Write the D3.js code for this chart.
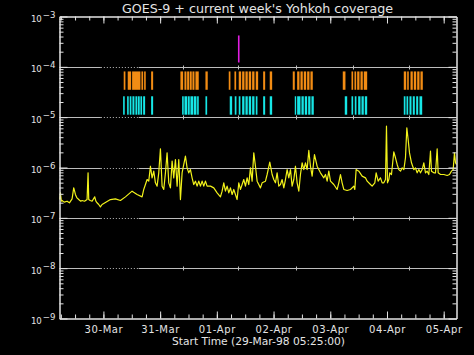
<!DOCTYPE html>
<html><head><meta charset="utf-8">
<script src="https://cdn.jsdelivr.net/npm/d3@7"></script>
<style>html,body{margin:0;padding:0;background:#000;} svg{display:block;}</style>
</head><body><svg id="c" width="474" height="355"></svg>
<script>
// ---------- data ----------
const titleText = "GOES-9 + current week's Yohkoh coverage";
const xTitleText = "Start Time (29-Mar-98 05:25:00)";
const startTime = Date.UTC(1998, 2, 29, 5, 25);
const spanHours = 168;
const dayTickLabels = ["30-Mar", "31-Mar", "01-Apr", "02-Apr", "03-Apr", "04-Apr", "05-Apr"];
const decadeTicks = [1e-9, 1e-8, 1e-7, 1e-6, 1e-5, 1e-4, 1e-3];
const decadeExponents = ["\u22129", "\u22128", "\u22127", "\u22126", "\u22125", "\u22124", "\u22123"];
const gridLevels = [1e-4, 1e-5, 1e-6, 1e-7, 1e-8];
const gridDottedHours = [17.5, 33.5];
const gridMarkHours = [52.3, 75.6, 99.9, 124.3, 147.8];

// hours since start
const fluxHours = [
  0.1, 0.38, 0.8, 1.09, 2.0, 3.2, 4.2, 5.32, 6.02, 6.4, 6.73, 7.4, 8.14, 9.0, 9.55, 10.6, 11.67, 12.09, 12.37, 13.0,
  13.79, 14.4, 14.91, 15.4, 15.9, 16.6, 17.31, 18.02, 21.55, 23.66, 25.78, 27.89, 30.72, 32.83, 34.95, 35.65, 36.36, 37.07, 37.77, 38.48,
  39.18, 39.89, 40.59, 41.3, 42.0, 42.71, 43.42, 44.12, 44.83, 45.53, 46.24, 46.94, 47.65, 48.35, 49.06, 49.77, 50.47, 51.18, 51.88, 53.29,
  54.0, 54.7, 55.41, 56.11, 56.82, 57.53, 58.23, 58.94, 59.64, 60.35, 61.05, 61.76, 62.46, 63.88, 65.29, 66.7, 68.11, 68.81, 69.52, 70.22,
  70.93, 71.64, 72.34, 73.05, 73.75, 75.16, 75.87, 76.57, 77.98, 78.69, 79.4, 80.1, 80.81, 81.51, 82.22, 82.92, 83.63, 85.04, 85.75, 87.16,
  87.86, 88.99, 89.98, 90.68, 91.39, 92.09, 92.8, 93.5, 94.21, 94.92, 95.62, 96.33, 97.03, 97.74, 98.44, 99.15, 99.85, 100.56, 101.27, 101.97,
  102.68, 103.38, 104.09, 104.79, 105.5, 106.2, 106.91, 107.9, 109.02, 110.44, 111.85, 112.55, 113.26, 113.96, 114.67, 116.08, 117.49, 118.19, 118.9, 119.6,
  120.31, 121.72, 123.13, 124.54, 124.97, 125.53, 126.66, 128.07, 129.48, 130.19, 131.6, 132.3, 133.43, 134.0, 134.84, 135.83, 136.54, 137.24, 137.95, 138.37,
  138.79, 139.36, 139.78, 140.49, 141.47, 142.18, 142.89, 143.59, 144.3, 145.0, 145.71, 146.41, 146.98, 147.54, 148.11, 148.95, 149.94, 150.65, 151.35, 152.06,
  152.76, 153.47, 154.17, 154.88, 155.58, 156.29, 156.99, 157.42, 158.41, 159.11, 159.82, 160.24, 161.23, 162.64, 164.05, 165.04, 165.88, 166.59, 167.15, 167.58,
  168.0
];
// GOES X-ray flux, W/m^2
const fluxValues = [
  2.31e-7, 3.14e-7, 2.14e-7, 2.21e-7, 2.05e-7, 2.14e-7, 1.99e-7, 2.38e-7, 3.94e-7, 3.39e-7, 2.91e-7, 2.49e-7, 2.31e-7, 2.14e-7, 2.21e-7, 2.14e-7, 2.31e-7, 7.83e-7, 2.31e-7, 2.21e-7,
  2.14e-7, 2.38e-7, 2.61e-7, 2.14e-7, 1.99e-7, 1.84e-7, 1.65e-7, 1.84e-7, 2.31e-7, 2.38e-7, 2.21e-7, 2.61e-7, 3.39e-7, 2.91e-7, 2.61e-7, 3.66e-7, 4.59e-7, 5.77e-7, 5.35e-7, 1.06e-6,
  6.23e-7, 8.45e-7, 4.96e-7, 4.26e-7, 7.83e-7, 2.35e-6, 4.26e-7, 3.66e-7, 7.83e-7, 1.95e-6, 4.96e-7, 3.94e-7, 1.34e-6, 6.23e-7, 1.44e-6, 4.26e-7, 1.44e-6, 2.31e-7, 7.83e-7, 1.68e-6,
  9.85e-7, 7.83e-7, 9.1e-7, 6.23e-7, 4.59e-7, 5.35e-7, 4.26e-7, 5.35e-7, 4.26e-7, 5.35e-7, 4.26e-7, 5.35e-7, 4.26e-7, 4.26e-7, 3.94e-7, 3.14e-7, 2.61e-7, 3.39e-7, 4.96e-7, 3.39e-7,
  4.26e-7, 3.14e-7, 3.94e-7, 2.91e-7, 3.66e-7, 2.31e-7, 4.96e-7, 3.66e-7, 5.77e-7, 4.26e-7, 6.23e-7, 4.59e-7, 9.85e-7, 5.35e-7, 1.95e-6, 1.06e-6, 5.35e-7, 3.94e-7, 4.96e-7, 5.35e-7,
  7.26e-7, 1.28e-6, 7.26e-7, 5.77e-7, 4.96e-7, 7.83e-7, 4.26e-7, 4.59e-7, 5.77e-7, 3.94e-7, 5.77e-7, 9.1e-7, 6.23e-7, 9.1e-7, 4.26e-7, 5.77e-7, 1.06e-6, 4.96e-7, 3.39e-7, 7.26e-7,
  1.24e-6, 9.1e-7, 1.24e-6, 9.1e-7, 2.18e-6, 1.06e-6, 6.73e-7, 1.81e-6, 1.06e-6, 7.83e-7, 6.23e-7, 7.26e-7, 5.35e-7, 8.45e-7, 5.35e-7, 4.59e-7, 3.66e-7, 4.96e-7, 7.26e-7, 4.96e-7,
  3.66e-7, 3.49e-7, 3.66e-7, 4.26e-7, 3.66e-7, 9.1e-7, 8.45e-7, 6.73e-7, 6.23e-7, 5.35e-7, 4.59e-7, 4.26e-7, 4.96e-7, 7.83e-7, 5.35e-7, 6.23e-7, 4.96e-7, 4.96e-7, 5.77e-7, 6.62e-6,
  4.96e-7, 5.77e-7, 7.83e-7, 7.26e-7, 2.05e-6, 1.56e-6, 1.15e-6, 9.1e-7, 8.45e-7, 9.85e-7, 9.1e-7, 1.56e-6, 6.14e-6, 3.6e-6, 1.95e-6, 1.24e-6, 9.1e-7, 9.85e-7, 7.83e-7, 9.1e-7,
  7.83e-7, 9.1e-7, 1.24e-6, 7.83e-7, 8.45e-7, 7.26e-7, 2.11e-6, 8.45e-7, 7.83e-7, 7.83e-7, 2.35e-6, 7.83e-7, 7.26e-7, 7.26e-7, 6.93e-7, 7.26e-7, 8.45e-7, 9.1e-7, 1.95e-6, 1.24e-6,
  1.15e-6
];

// Yohkoh coverage intervals [start hour, end hour]
const orangeCoverage = [
  [27.17, 27.89], [28.87, 30.31], [30.73, 34.24], [34.67, 35.39], [35.81, 36.49], [38.77, 39.62],
  [51.17, 52.32], [52.87, 53.71], [54.01, 54.86], [55.11, 55.96], [56.25, 57.1], [57.52, 58.92], [61.76, 62.73],
  [71.62, 72.34], [74.03, 74.75], [75.85, 76.87], [77.29, 78.27], [78.69, 79.66], [80.08, 81.1], [81.52, 82.5], [83.05, 84.06], [86.18, 87.03], [88.97, 89.99],
  [98.71, 99.56], [100.57, 101.55], [101.97, 102.94], [103.37, 104.38], [104.8, 105.78], [106.2, 107.18],
  [119.87, 121.01], [123.56, 124.27], [124.82, 125.54], [125.97, 126.94], [127.37, 128.34], [128.76, 130.2],
  [145.69, 146.71], [147.13, 147.81], [148.53, 149.5], [149.93, 150.94], [151.37, 152.34], [152.76, 153.74]
];
const cyanCoverage = [
  [26.92, 27.6], [28.61, 29.29], [29.71, 30.43], [30.86, 31.7], [32.13, 32.85], [33.1, 33.95], [34.24, 34.96], [35.39, 36.23], [38.77, 39.62],
  [51.89, 52.57], [52.87, 54.01], [54.27, 55.11], [55.41, 56.55], [56.8, 57.95], [58.24, 58.92], [61.76, 62.48],
  [72.04, 73.06], [74.16, 74.88], [75.85, 76.57], [77.29, 78.27], [78.69, 79.66], [80.08, 81.1], [81.52, 82.5], [83.05, 83.77], [86.18, 87.03], [88.97, 89.99],
  [99.56, 100.15], [100.57, 101.97], [102.39, 103.37], [103.79, 104.8], [105.23, 106.2], [106.62, 107.6],
  [120.72, 121.74], [123.56, 124.27], [124.95, 125.67], [126.39, 127.37], [127.79, 128.76], [129.19, 130.2],
  [145.69, 146.41], [146.84, 147.56], [148.1, 148.95], [149.5, 150.35], [150.94, 151.79], [152.34, 153.48]
];
const orangeBand = [8.1e-5, 3.5e-5];
const cyanBand = [2.6e-5, 1.12e-5];
const magentaHours = [75.85];
const magentaRange = [4.2e-4, 1.22e-4];

// ---------- drawing ----------
const svg = d3.select("#c");
svg.append("rect").attr("width", 474).attr("height", 355).attr("fill", "#000");
const hourToDate = h => new Date(startTime + h * 3600e3);
const L = 59.5, R = 456.5, T = 16.5, B = 318.5;
const x = d3.scaleUtc().domain([hourToDate(0), hourToDate(spanHours)]).range([L, R]);
const y = d3.scaleLog().domain([1e-9, 1e-3]).range([B, T]);
const axisColor = "#e4e4e4", gridColor = "#bdbdbd", font = "DejaVu Sans, sans-serif";

// title
svg.append("text").attr("x", 257.5).attr("y", 12.5).attr("text-anchor", "middle")
  .attr("font-family", font).attr("font-size", 12).attr("fill", axisColor)
  .attr("textLength", 271).attr("lengthAdjust", "spacingAndGlyphs").text(titleText);

// grid lines
const gx0 = x(hourToDate(0)), gxa = x(hourToDate(gridDottedHours[0])), gxb = x(hourToDate(gridDottedHours[1])), gx1 = x(hourToDate(spanHours));
const grid = svg.append("g").attr("stroke", gridColor).attr("stroke-width", 1);
gridLevels.forEach(v => {
  const yy = Math.round(y(v)) + 0.5;
  grid.append("line").attr("x1", gx0).attr("x2", gxa).attr("y1", yy).attr("y2", yy);
  grid.append("line").attr("x1", gxa).attr("x2", gxb).attr("y1", yy).attr("y2", yy).attr("stroke-dasharray", "1,2");
  grid.append("line").attr("x1", gxb).attr("x2", gx1).attr("y1", yy).attr("y2", yy);
  if (v !== 1e-6) gridMarkHours.forEach(h => {
    const xx = Math.round(x(hourToDate(h))) + 0.5;
    grid.append("line").attr("x1", xx).attr("x2", xx).attr("y1", yy - 2).attr("y2", yy + 2);
  });
});

// coverage bars
function bars(data, band, color) {
  svg.append("g").selectAll("rect").data(data).join("rect")
    .attr("x", d => x(hourToDate(d[0])))
    .attr("width", d => Math.max(1, x(hourToDate(d[1])) - x(hourToDate(d[0]))))
    .attr("y", y(band[0])).attr("height", y(band[1]) - y(band[0]))
    .attr("fill", color);
}
bars(orangeCoverage, orangeBand, "#f28c14");
bars(cyanCoverage, cyanBand, "#16e6e6");

// magenta marker
svg.append("g").selectAll("line").data(magentaHours).join("line")
  .attr("x1", d => x(hourToDate(d))).attr("x2", d => x(hourToDate(d)))
  .attr("y1", y(magentaRange[0])).attr("y2", y(magentaRange[1]))
  .attr("stroke", "#e21ee2").attr("stroke-width", 1.6);

// flux line
const series = fluxHours.map((h, i) => [h, fluxValues[i]]);
svg.append("path").datum(series)
  .attr("d", d3.line().x(d => x(hourToDate(d[0]))).y(d => y(d[1])))
  .attr("fill", "none").attr("stroke", "#f2f21a").attr("stroke-width", 1.2).attr("stroke-linejoin", "round");

// axes
const dayTicks = d3.utcDay.range(hourToDate(0), hourToDate(spanHours));
const sixHourTicks = d3.utcHour.every(6).range(hourToDate(0), hourToDate(spanHours));
function styleAxis(g) {
  g.select(".domain").attr("stroke", axisColor);
  g.selectAll(".tick line").attr("stroke", axisColor);
  g.selectAll("text").attr("fill", axisColor).attr("font-family", font);
}
const axBottom = svg.append("g").attr("transform", `translate(0,${B})`)
  .call(d3.axisBottom(x).tickValues(sixHourTicks).tickSize(-4).tickSizeOuter(0).tickFormat(""));
styleAxis(axBottom);
const axBottomMajor = svg.append("g").attr("transform", `translate(0,${B})`)
  .call(d3.axisBottom(x).tickValues(dayTicks).tickSize(-7).tickSizeOuter(0).tickPadding(7.5)
    .tickFormat((d, i) => dayTickLabels[i]));
styleAxis(axBottomMajor);
axBottomMajor.selectAll("text").attr("font-size", 10).attr("letter-spacing", 0.6);

const axTop = svg.append("g").attr("transform", `translate(0,${T})`)
  .call(d3.axisTop(x).tickValues(sixHourTicks).tickSize(-4).tickSizeOuter(0).tickFormat(""));
styleAxis(axTop);
const axTopMajor = svg.append("g").attr("transform", `translate(0,${T})`)
  .call(d3.axisTop(x).tickValues(dayTicks).tickSize(-7).tickSizeOuter(0).tickFormat(""));
styleAxis(axTopMajor);

const minorY = y.ticks().filter(v => !decadeTicks.some(d => Math.abs(v / d - 1) < 1e-6));
const axLeft = svg.append("g").attr("transform", `translate(${L},0)`)
  .call(d3.axisLeft(y).tickValues(minorY).tickSize(-4).tickSizeOuter(0).tickFormat(""));
styleAxis(axLeft);
const axLeftMajor = svg.append("g").attr("transform", `translate(${L},0)`)
  .call(d3.axisLeft(y).tickValues(decadeTicks).tickSize(-8).tickSizeOuter(0).tickFormat(""));
styleAxis(axLeftMajor);
const axRight = svg.append("g").attr("transform", `translate(${R},0)`)
  .call(d3.axisRight(y).tickValues(minorY).tickSize(-4).tickSizeOuter(0).tickFormat(""));
styleAxis(axRight);
const axRightMajor = svg.append("g").attr("transform", `translate(${R},0)`)
  .call(d3.axisRight(y).tickValues(decadeTicks).tickSize(-8).tickSizeOuter(0).tickFormat(""));
styleAxis(axRightMajor);

// y labels 10^n
const yl = svg.append("g").attr("font-family", font).attr("fill", axisColor);
decadeTicks.forEach((v, i) => {
  const t = yl.append("text").attr("x", 55.5).attr("y", y(v) + 5.5).attr("text-anchor", "end").attr("font-size", 8.6);
  t.append("tspan").text("10");
  t.append("tspan").attr("dy", -4.4).attr("dx", 1).text(decadeExponents[i]);
});

// x title
svg.append("text").attr("x", 258.5).attr("y", 345).attr("text-anchor", "middle")
  .attr("font-family", font).attr("font-size", 10).attr("fill", axisColor)
  .attr("textLength", 173).attr("lengthAdjust", "spacingAndGlyphs").text(xTitleText);
</script></body></html>
